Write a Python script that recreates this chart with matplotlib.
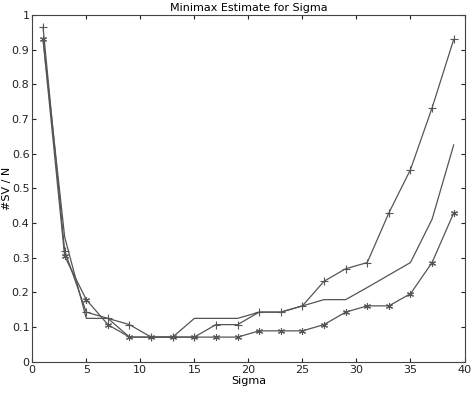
import matplotlib
matplotlib.use("Agg")
import matplotlib.pyplot as plt

sigma = list(range(1, 40, 2))
plus_vals = [0.964, 0.32, 0.143, 0.125, 0.107, 0.071, 0.071, 0.071, 0.107, 0.107,
             0.143, 0.143, 0.161, 0.232, 0.268, 0.286, 0.429, 0.554, 0.732, 0.929]
line_vals = [0.93, 0.36, 0.125, 0.125, 0.071, 0.071, 0.071, 0.125, 0.125, 0.125,
             0.143, 0.143, 0.161, 0.179, 0.179, 0.214, 0.25, 0.286, 0.411, 0.625]
star_vals = [0.929, 0.304, 0.179, 0.107, 0.071, 0.071, 0.071, 0.071, 0.071, 0.071,
             0.089, 0.089, 0.089, 0.107, 0.143, 0.161, 0.161, 0.196, 0.286, 0.429]

fig = plt.figure(figsize=(4.74, 4.12), dpi=100)
ax = fig.add_axes([0.068, 0.122, 0.912, 0.842])
c = '#555555'
ax.plot(sigma, plus_vals, color=c, lw=0.9, marker='+', ms=6, mew=0.8)
ax.plot(sigma, line_vals, color=c, lw=0.9)
ax.plot(sigma, star_vals, color=c, lw=0.9, marker=(6, 2, 0), ms=5, mew=0.8)
ax.set_xlim(0, 40)
ax.set_ylim(0, 1)
ax.set_xticks(range(0, 41, 5))
ax.set_yticks([i / 10 for i in range(11)])
ax.set_yticklabels(['0', '0.1', '0.2', '0.3', '0.4', '0.5', '0.6', '0.7', '0.8', '0.9', '1'])
ax.tick_params(labelsize=8, direction='in', length=3, colors='#222222', pad=2)
ax.tick_params(top=True, right=True)
for s in ax.spines.values():
    s.set_color('#444444'); s.set_linewidth(0.8)
ax.set_xlabel('Sigma', fontsize=8, labelpad=1)
ax.set_ylabel('#SV / N', fontsize=8, labelpad=0)
ax.set_title('Minimax Estimate for Sigma', fontsize=8, pad=3)
fig.savefig('out.png', dpi=100)
